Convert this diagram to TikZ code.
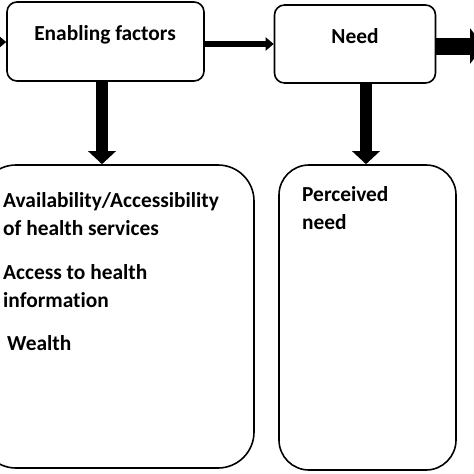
\documentclass[tikz,border=0pt]{standalone}
\usepackage{fontspec}
\setmainfont{Carlito}[Ligatures=NoCommon]
\usetikzlibrary{arrows.meta}
\tikzset{
  factorbox/.style={draw,line width=1.6pt,rounded corners=10pt,inner sep=0pt},
  listbox/.style={draw,line width=1.6pt,inner sep=0pt},
  boxtext/.style={font=\fontsize{21.4}{28}\selectfont\bfseries,inner sep=0pt},
  thinarrow/.style={line width=6pt,-{Triangle[width=13pt,length=8pt]}},
  thickarrow/.style={line width=12.5pt,-{Triangle[width=27pt,length=13pt]}},
  wideharrow/.style={line width=17pt,-{Triangle[width=35pt,length=14pt]}}
}
\begin{document}
\begin{tikzpicture}[x=1pt,y=-1pt]
				\useasboundingbox[fill=white] (0,0) rectangle (474,474);
				\clip (0,0) rectangle (474,474);
				% upper boxes
				\node[factorbox,minimum width=197pt,minimum height=79pt] (enabling) at (105.5,41.5) {};
				\node[factorbox,minimum width=161pt,minimum height=78pt] (need) at (355,44) {};
				\node[boxtext,anchor=base] (enablingtxt) at (105,40) {Enabling factors};
				\node[boxtext,anchor=base] (needtxt) at (355,43) {Need};
				% lower boxes
				\node[listbox,rounded corners=36pt,minimum width=274pt,minimum height=303pt] (enablinglist) at (117,316.5) {};
				\node[listbox,rounded corners=30pt,minimum width=177pt,minimum height=305pt] (needlist) at (367.5,317.5) {};
				\node[boxtext,anchor=base west,align=left] (avail) at (3,235) {Availability/Accessibility\\of health services};
				\node[boxtext,anchor=base west,align=left] (access) at (3,307) {Access to health\\information};
				\node[boxtext,anchor=base west] (wealth) at (7,350) {Wealth};
				\node[boxtext,anchor=base west,align=left] (perceived) at (302,229) {Perceived\\need};
				% connectors
				\coordinate (incoming) at (-12,42);
				\coordinate (outgoing) at (484,46);
				\draw[thinarrow] (incoming) -- (incoming -| enabling.west);
				\draw[thinarrow] (enabling.east |- 0,44) -- (need.west |- 0,44);
				\draw[wideharrow] (need.east |- outgoing) -- (outgoing);
				\draw[thickarrow] ([xshift=-3.5pt]enabling.south) -- ([xshift=-3.5pt]enabling.south |- enablinglist.north);
				\draw[thickarrow] ([xshift=11pt]need.south) -- ([xshift=11pt]need.south |- needlist.north);
\end{tikzpicture}
\end{document}
